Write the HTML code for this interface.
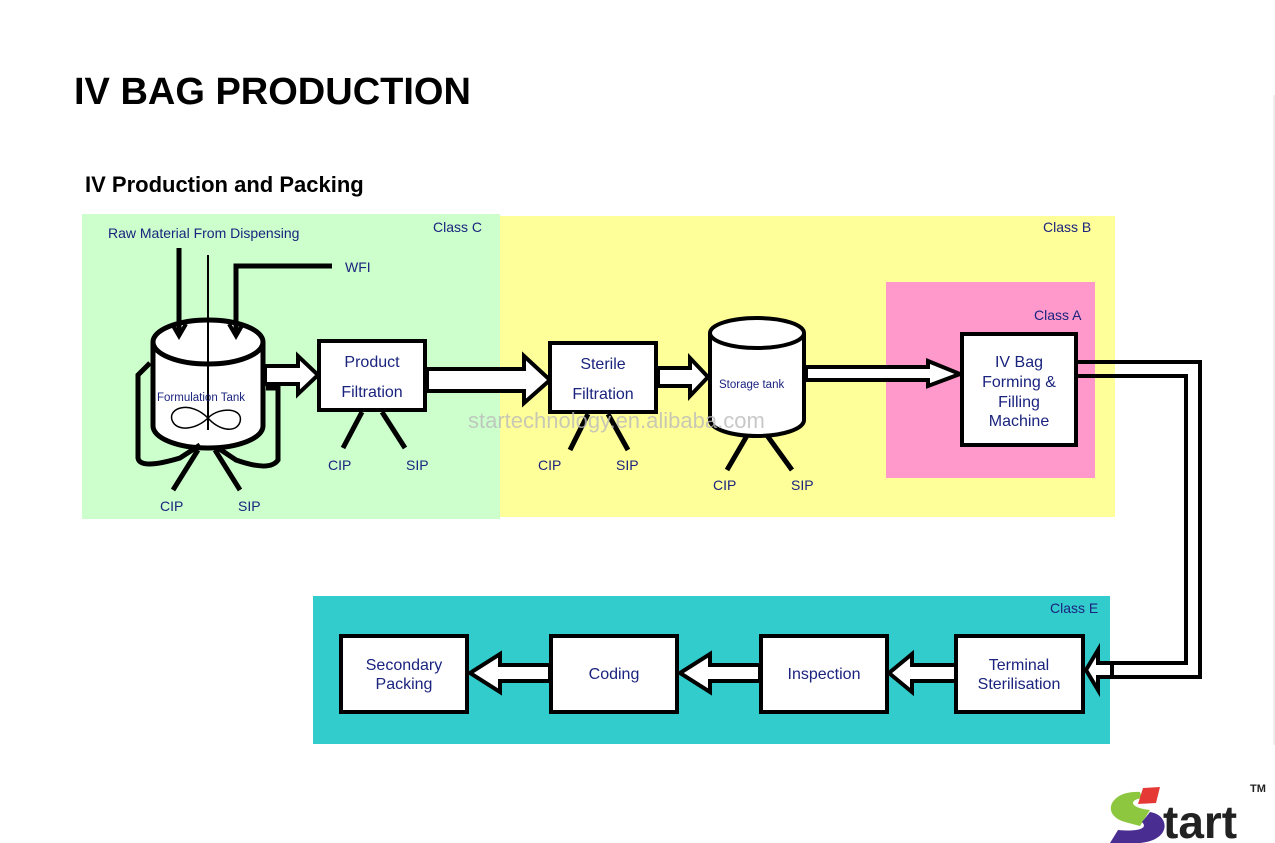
<!DOCTYPE html><html><head><style>body{margin:0;background:#fff}svg{display:block}text{font-family:"Liberation Sans",sans-serif}</style></head><body>
<svg width="1275" height="843" viewBox="0 0 1275 843">
<text x="74" y="104" font-size="38" font-weight="bold" fill="#000">IV BAG PRODUCTION</text>
<text x="85" y="192" font-size="22" font-weight="bold" fill="#000">IV Production and Packing</text>
<line x1="1274" y1="95" x2="1274" y2="745" stroke="#ddd"/>
<rect x="82" y="214" width="418" height="305" fill="#ccffcc"/>
<rect x="500" y="216" width="615" height="301" fill="#ffff99"/>
<rect x="886" y="282" width="209" height="196" fill="#ff99cc"/>
<rect x="313" y="596" width="797" height="148" fill="#33cccc"/>
<g fill="#1a237e" font-size="14">
<text x="108" y="238">Raw Material From Dispensing</text>
<text x="433" y="232">Class C</text><text x="1043" y="232">Class B</text><text x="1034" y="320">Class A</text><text x="1050" y="613">Class E</text>
<text x="345" y="272">WFI</text>
</g>
<g stroke="#000" fill="none" stroke-width="5">
<path d="M153,342 L153,426 A55,22 0 0 0 263,426 L263,342" fill="#fff"/>
<ellipse cx="208" cy="342" rx="55" ry="22" fill="#fff"/>
<line x1="179" y1="248" x2="179" y2="332"/>
<polyline points="332,266 236,266 236,332"/>
<polyline points="172,324 179,336 186,324" stroke-width="4"/>
<polyline points="229,324 236,336 243,324" stroke-width="4"/>
<path d="M150,363 L138,375 L138,458 Q140,470 180,458 L200,445 M266,388 L278,388 L278,460 Q270,472 236,460 L218,448"/>
<line x1="198" y1="450" x2="173" y2="490"/><line x1="215" y1="450" x2="240" y2="490"/>
<line x1="362" y1="412" x2="343" y2="448"/><line x1="382" y1="412" x2="405" y2="448"/>
<line x1="588" y1="414" x2="570" y2="450"/><line x1="608" y1="414" x2="628" y2="450"/>
<line x1="748" y1="434" x2="727" y2="470"/><line x1="766" y1="434" x2="792" y2="470"/>
</g>
<line x1="208" y1="255" x2="208" y2="430" stroke="#000" stroke-width="2"/>
<path d="M208,418 C190,400 168,408 172,420 C176,432 196,430 208,418 C220,406 244,408 240,422 C236,434 218,430 208,418Z" fill="#fff" stroke="#000" stroke-width="1.5"/>
<path d="M710,333 L710,420 A47,16 0 0 0 804,420 L804,333" fill="#fff" stroke="#000" stroke-width="4"/>
<ellipse cx="757" cy="333" rx="47" ry="15" fill="#fff" stroke="#000" stroke-width="4"/>
<g fill="#1a237e" font-size="11.5"><text x="157" y="401">Formulation Tank</text><text x="719" y="388">Storage tank</text></g>
<g fill="#fff" stroke="#000" stroke-width="4" stroke-linejoin="miter">
<polygon points="265,366 298,366 298,356 318,375 298,394 298,384 265,384"/>
<polygon points="427,369 524,369 524,356 550,380 524,403 524,391 427,391"/>
<polygon points="658,368 690,368 690,358 708,377 690,396 690,386 658,386"/>
<polygon points="806,367 928,367 928,361 960,374 928,386 928,380 806,380"/>
<polygon points="760,665 710,665 710,654 680,673 710,692 710,681 760,681"/>
<polygon points="550,665 500,665 500,654 470,673 500,692 500,681 550,681"/>
<polygon points="958,665 912,665 912,654 889,673 912,692 912,681 958,681"/>
</g>
<g fill="none" stroke="#000" stroke-width="4">
<polyline points="1078,362 1200,362 1200,677 1110,677"/>
<polyline points="1078,376 1186,376 1186,663 1110,663"/>
</g>
<polygon points="1112,663 1098,663 1098,650 1086,670 1098,690 1098,677 1112,677" fill="#fff" stroke="#000" stroke-width="4"/>
<g fill="#fff" stroke="#000" stroke-width="4">
<rect x="319" y="341" width="106" height="69"/><rect x="550" y="343" width="106" height="69"/>
<rect x="962" y="334" width="114" height="111"/>
<rect x="956" y="636" width="127" height="76"/><rect x="761" y="636" width="126" height="76"/>
<rect x="551" y="636" width="126" height="76"/><rect x="341" y="636" width="126" height="76"/>
</g>
<g fill="#1a237e" font-size="16" text-anchor="middle">
<text x="372" y="367">Product</text><text x="372" y="397">Filtration</text>
<text x="603" y="369">Sterile</text><text x="603" y="399">Filtration</text>
<text x="1019" y="367">IV Bag</text><text x="1019" y="387">Forming &amp;</text><text x="1019" y="407">Filling</text><text x="1019" y="426">Machine</text>
<text x="1019" y="670">Terminal</text><text x="1019" y="689">Sterilisation</text>
<text x="824" y="679">Inspection</text><text x="614" y="679">Coding</text>
<text x="404" y="670">Secondary</text><text x="404" y="689">Packing</text>
</g>
<g fill="#1a237e" font-size="14">
<text x="160" y="511">CIP</text><text x="238" y="511">SIP</text>
<text x="328" y="470">CIP</text><text x="406" y="470">SIP</text>
<text x="538" y="470">CIP</text><text x="616" y="470">SIP</text>
<text x="713" y="490">CIP</text><text x="791" y="490">SIP</text>
</g>
<text x="468" y="428" font-size="22" fill="#bbb" opacity="0.8">startechnology.en.alibaba.com</text>
<path d="M1140,792 C1110,790 1100,815 1125,822 L1140,826 L1150,810 C1130,808 1128,800 1142,798Z" fill="#8dc63f"/>
<polygon points="1143,788 1160,787 1156,803 1138,804" fill="#e53935"/>
<path d="M1150,812 C1170,815 1172,840 1140,843 L1110,843 L1118,830 C1140,832 1148,828 1142,822Z" fill="#4a2d91"/>
<text x="1163" y="838" font-size="46" font-weight="bold" fill="#222">tart</text>
<text x="1250" y="792" font-size="11" font-weight="bold" fill="#222">TM</text>
</svg></body></html>
